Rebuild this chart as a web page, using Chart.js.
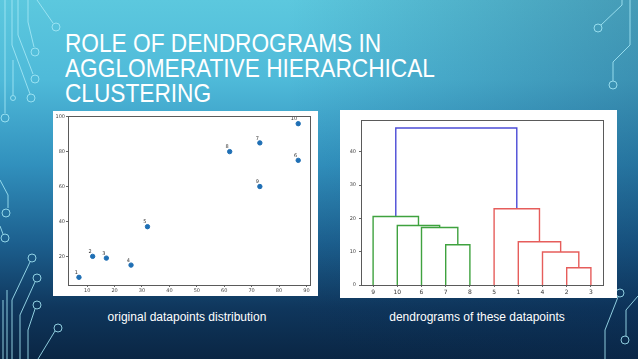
<!DOCTYPE html>
<html>
<head>
<meta charset="utf-8">
<script src="https://cdn.jsdelivr.net/npm/chart.js@4.4.1/dist/chart.umd.min.js"></script>
<style>
  html, body { margin: 0; padding: 0; }
  body { width: 638px; height: 359px; overflow: hidden; position: relative;
    background: linear-gradient(180deg, #5cc8de 0%, #4fbad9 22%, #3190bd 46%, #1c5f8e 68%, #0f365c 86%, #0a2644 100%); }
  .shade { position: absolute; left: 0; top: 0; width: 638px; height: 359px;
    background: linear-gradient(90deg, rgba(0,0,0,0) 45%, rgba(8,40,80,0.28) 100%); }
  svg.deco { position: absolute; left: 0; top: 0; }
  .title { position: absolute; left: 65px; top: 31px; color: #fff;
    font-family: 'Liberation Sans', Arial, sans-serif;
    font-size: 26px; line-height: 25px; white-space: nowrap;
    transform: scaleX(0.872); transform-origin: 0 0; }
  .box { position: absolute; background: #fff; }
  .caption { position: absolute; top: 310px; color: #fff; font-family: 'Liberation Sans', Arial, sans-serif;
    font-size: 12px; width: 260px; text-align: center; }
</style>
</head>
<body>
<div class="shade"></div>
<svg class="deco" width="638" height="359" fill="none" stroke="rgba(165,232,246,0.85)" stroke-width="1">
  <path d="M37,0 L53,23"/><circle cx="56" cy="27" r="4"/>
  <path d="M28,0 L28,22 L34,47"/><circle cx="35" cy="52" r="4"/>
  <path d="M18,0 L18,35 L33,74"/><circle cx="35" cy="79" r="4"/>
  <path d="M12,0 L12,45 L30,94"/><circle cx="31" cy="98" r="4"/>
  <path d="M13,60 L13,95"/><circle cx="13" cy="98" r="2.5"/>
  <path d="M5,0 L5,113"/><circle cx="5" cy="118" r="4"/>
  <path d="M0,180 L8,195 L8,208"/><circle cx="6" cy="213" r="4"/>
  <path d="M0,226 L3,234"/><circle cx="5" cy="238" r="4"/>
  <path d="M30,262 L12,300 L12,359"/><circle cx="32" cy="258" r="4"/>
  <path d="M35,282 L20,315 L20,359"/><circle cx="37" cy="278" r="4"/>
  <path d="M35,309 L28,330 L28,359"/><circle cx="37" cy="305" r="4"/>
  <path d="M55,331 L38,359"/><circle cx="58" cy="328" r="4"/>
  <path d="M3,300 L3,359 M7,290 L7,359"/>
  <path d="M601,25 L622,5 L622,0"/><circle cx="598" cy="28" r="4"/>
  <path d="M613,81 L613,62 L630,45 L630,0"/><circle cx="613" cy="85" r="4"/>
  <path d="M618,297 L605,330 L605,359"/><circle cx="620" cy="293" r="4"/>
  <path d="M626,336 L626,310 L638,296"/><circle cx="625" cy="340" r="4"/>
</svg>
<div class="title">ROLE OF DENDROGRAMS IN<br>AGGLOMERATIVE HIERARCHICAL<br>CLUSTERING</div>

<div class="box" style="left:53px;top:111px;width:265px;height:185px;">
  <canvas id="scatter" width="265" height="185"></canvas>
</div>
<div class="box" style="left:340px;top:110px;width:277px;height:188px;">
  <canvas id="dendro" width="277" height="188"></canvas>
</div>
<div class="caption" style="left:57px;">original datapoints distribution</div>
<div class="caption" style="left:347px;">dendrograms of these datapoints</div>

<script>
// datapoints
const pointIds = ['1', '2', '3', '4', '5', '6', '7', '8', '9', '10'];
const pointX = [7, 12, 17, 26, 32, 87, 73, 62, 73, 87];
const pointY = [8, 20, 19, 15, 37, 75, 85, 80, 60, 96];
const scatterXTicks = [10, 20, 30, 40, 50, 60, 70, 80, 90];
const scatterYTicks = [20, 40, 60, 80, 100];

// dendrogram (single linkage); 'Cn' = cluster made by merge n
const leafOrder = ['9', '10', '6', '7', '8', '5', '1', '4', '2', '3'];
const mergeA = ['2', '4', '7', '1', '6', '10', '9', '5', 'C7'];
const mergeB = ['3', 'C1', '8', 'C2', 'C3', 'C5', 'C6', 'C4', 'C8'];
const mergeHeight = [5.2, 9.9, 12.1, 13.0, 17.3, 17.9, 20.6, 22.9, 47.2];
const mergeGroup = ['red', 'red', 'green', 'red', 'green', 'green', 'green', 'red', 'top'];
const dendroYTicks = [0, 10, 20, 30, 40];

const groupColors = { green: '#3fa23f', red: '#e65d5b', top: '#4b4bd6' };
const tickFont = { family: 'DejaVu Sans', size: 5 };

const framePlugin = {
  id: 'frame',
  afterDraw(chart) {
    const a = chart.chartArea, ctx = chart.ctx;
    ctx.save();
    ctx.strokeStyle = '#5a5a5a';
    ctx.lineWidth = 1;
    ctx.strokeRect(Math.round(a.left) + 0.5, Math.round(a.top) + 0.5,
      Math.round(a.right - a.left), Math.round(a.bottom - a.top));
    ctx.restore();
  }
};

const pointLabelPlugin = {
  id: 'pointLabels',
  afterDatasetsDraw(chart) {
    const ctx = chart.ctx;
    const meta = chart.getDatasetMeta(0);
    ctx.save();
    ctx.fillStyle = '#333';
    ctx.font = '5px DejaVu Sans';
    ctx.textAlign = 'right';
    ctx.textBaseline = 'bottom';
    meta.data.forEach((pt, i) => {
      ctx.fillText(pointIds[i], pt.x - 1, pt.y - 2);
    });
    ctx.restore();
  }
};

function fixedSize(w, h) {
  return function (scale) {
    if (w) scale.width = w;
    if (h) scale.height = h;
  };
}

new Chart(document.getElementById('scatter'), {
  type: 'scatter',
  data: {
    datasets: [{
      data: pointX.map((x, i) => ({ x: x, y: pointY[i] })),
      backgroundColor: '#1f6fb4',
      borderColor: '#1f6fb4',
      pointRadius: 2.2
    }]
  },
  options: {
    responsive: false,
    animation: false,
    layout: { padding: { top: 4, right: 8, left: 0, bottom: 0 } },
    plugins: { legend: { display: false }, tooltip: { enabled: false } },
    scales: {
      x: {
        type: 'linear', min: 3, max: 91.3,
        afterBuildTicks: s => { s.ticks = scatterXTicks.map(v => ({ value: v })); },
        afterFit: fixedSize(null, 11),
        grid: { drawOnChartArea: false, tickLength: 2, color: '#666' },
        border: { display: false },
        ticks: { font: tickFont, color: '#444', padding: 1, maxRotation: 0 }
      },
      y: {
        type: 'linear', min: 3.6, max: 100.4,
        afterBuildTicks: s => { s.ticks = scatterYTicks.map(v => ({ value: v })); },
        afterFit: fixedSize(15, null),
        grid: { drawOnChartArea: false, tickLength: 2, color: '#666' },
        border: { display: false },
        ticks: { font: tickFont, color: '#444', padding: 1 }
      }
    }
  },
  plugins: [framePlugin, pointLabelPlugin]
});

// leaf and cluster positions from the merge list
const nodeX = {}, nodeY = {};
leafOrder.forEach((name, i) => { nodeX[name] = 5 + 10 * i; nodeY[name] = 0; });
const linkSets = mergeA.map((a, i) => {
  const b = mergeB[i], h = mergeHeight[i];
  const name = 'C' + (i + 1);
  nodeX[name] = (nodeX[a] + nodeX[b]) / 2;
  nodeY[name] = h;
  return {
    data: [
      { x: nodeX[a], y: nodeY[a] }, { x: nodeX[a], y: h },
      { x: nodeX[b], y: h }, { x: nodeX[b], y: nodeY[b] }
    ],
    showLine: true,
    borderColor: groupColors[mergeGroup[i]],
    borderWidth: 1.4,
    pointRadius: 0,
    fill: false
  };
});

new Chart(document.getElementById('dendro'), {
  type: 'scatter',
  data: { datasets: linkSets },
  options: {
    responsive: false,
    animation: false,
    layout: { padding: { top: 10, right: 14, left: 0, bottom: 0 } },
    plugins: { legend: { display: false }, tooltip: { enabled: false } },
    scales: {
      x: {
        type: 'linear', min: 0, max: 100,
        afterBuildTicks: s => { s.ticks = leafOrder.map((n, i) => ({ value: 5 + 10 * i })); },
        afterFit: fixedSize(null, 13),
        grid: { drawOnChartArea: false, tickLength: 2, color: '#666' },
        border: { display: false },
        ticks: {
          font: { family: 'DejaVu Sans', size: 6 }, color: '#333', padding: 2, maxRotation: 0,
          callback: (v, i) => leafOrder[i]
        }
      },
      y: {
        type: 'linear', min: 0, max: 49.6,
        afterBuildTicks: s => { s.ticks = dendroYTicks.map(v => ({ value: v })); },
        afterFit: fixedSize(21, null),
        grid: { drawOnChartArea: false, tickLength: 2, color: '#666' },
        border: { display: false },
        ticks: { font: tickFont, color: '#444', padding: 3 }
      }
    }
  },
  plugins: [framePlugin]
});
</script>
</body>
</html>
